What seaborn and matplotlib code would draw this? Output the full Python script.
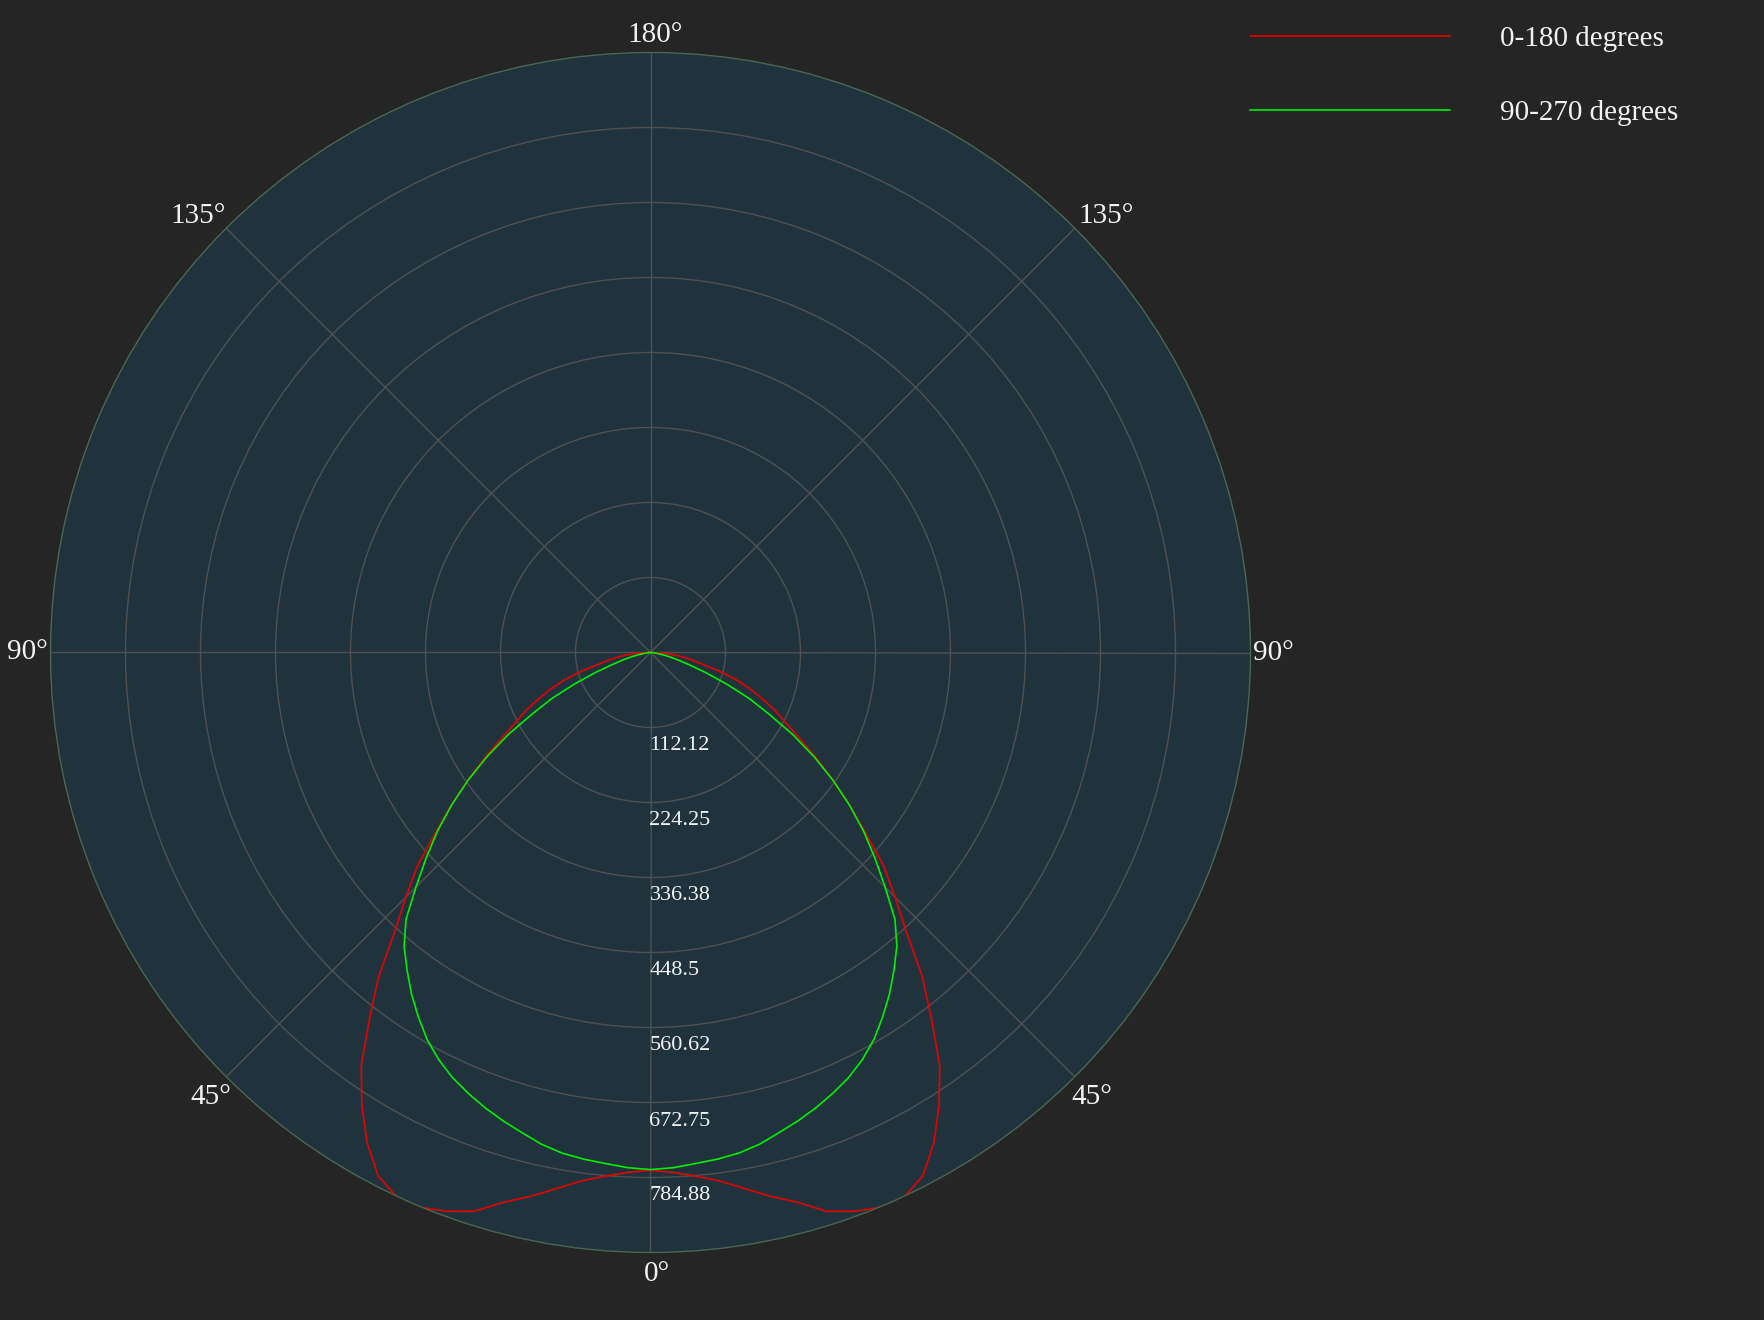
import numpy as np
import pandas as pd
import matplotlib
matplotlib.use("Agg")
import matplotlib.pyplot as plt
import matplotlib.transforms as mtransforms
import seaborn as sns

# ---- data (gamma angle in degrees, intensity values, symmetric planes) ----
gamma_deg = [0, 2.5, 5, 7.5, 10, 12.5, 15, 17.5, 20, 22.5, 25, 27.5, 30, 32.5, 35,
             37.5, 40, 42.5, 45, 47.5, 50, 52.5, 55, 57.5, 60, 62.5, 65, 67.5, 70,
             72.5, 75, 77.5, 80, 82.5, 85, 87.5, 90]
c0_180 = [774, 778, 786, 797, 814, 833, 851, 876, 889, 898, 898, 882, 847, 803, 754,
          690, 632, 566, 517, 473, 419, 376, 334, 294, 258, 228, 206, 181, 158,
          133, 105, 77, 62, 46, 30, 15, 0]
c90_270 = [773, 771, 767, 764, 760, 753, 743, 734, 724, 713, 701, 686, 668, 646, 623,
           598, 573, 541, 496, 455, 416, 375, 333, 290, 246, 200, 163, 123, 88,
           60, 42, 28, 17, 9, 4, 1, 0]
series_names = ["0-180 degrees", "90-270 degrees"]
series_colors = ["#e80000", "#00f000"]

r_ticks = [112.125, 224.25, 336.375, 448.5, 560.625, 672.75, 784.875]
r_tick_labels = ["112.12", "224.25", "336.38", "448.5", "560.62", "672.75", "784.88"]
r_max = 897.0
theta_tick_deg = [0, 45, 90, 135, 180, 225, 270, 315]
theta_tick_labels = ["0°", "45°", "90°", "135°", "180°", "135°", "90°", "45°"]
# label offsets from the outer circle (pixels, x right / y up)
theta_label_dx = [6.5, 17, 22.5, 31, 4.5, -28, -22.7, -15]
theta_label_dy = [-21.5, -20, 0, 12, 17.5, 12, 0, -20]

# ---- build long table (mirror each plane: left half = negative angle) ----
rows = []
for name, vals in zip(series_names, [c0_180, c90_270]):
    g = np.array(gamma_deg, dtype=float)
    v = np.array(vals, dtype=float)
    th = np.concatenate([-g[::-1], g[1:]])
    vv = np.concatenate([v[::-1], v[1:]])
    for t, r in zip(th, vv):
        rows.append({"theta": np.deg2rad(t), "value": r, "plane": name})
df = pd.DataFrame(rows)

# ---- style ----
sns.set_theme(style="dark")
plt.rcParams["font.family"] = ["Liberation Serif", "DejaVu Serif"]

FIG_BG = "#252525"
AX_BG = "#20333d"
TXT = "#f2f2f2"

fig = plt.figure(figsize=(17.64, 13.2), dpi=100, facecolor=FIG_BG)
ax = fig.add_axes([50.5 / 1764, (1320 - 1252.5) / 1320, 1200 / 1764, 1200 / 1320],
                  projection="polar", facecolor=AX_BG)
ax.set_theta_zero_location("S")

sns.lineplot(data=df, x="theta", y="value", hue="plane", palette=series_colors,
             hue_order=series_names, sort=False, estimator=None, linewidth=1.2,
             ax=ax, legend=False)

ax.set_ylim(0, r_max)
ax.set_yticks(r_ticks)
ax.set_yticklabels([])
ax.set_xticks(np.deg2rad(theta_tick_deg))
ax.set_xticklabels([])
ax.set_xlabel("")
ax.set_ylabel("")
ax.grid(True, color="#505050", linewidth=1.0)
ax.spines["polar"].set_color("#4a6650")
ax.spines["polar"].set_linewidth(1.0)

# angular labels around the outer circle
for deg, lab, dx, dy in zip(theta_tick_deg, theta_tick_labels, theta_label_dx, theta_label_dy):
    tr = mtransforms.offset_copy(ax.transData, fig=fig, x=dx, y=dy, units="dots")
    ax.text(np.deg2rad(deg), r_max, lab, transform=tr, ha="center", va="center",
            color=TXT, fontsize=21, clip_on=False)

# radial labels along the 0 degree direction
off = mtransforms.offset_copy(ax.transData, fig=fig, x=-1, y=-9, units="dots")
for r, lab in zip(r_ticks, r_tick_labels):
    ax.text(0, r, lab, transform=off, ha="left", va="top", color=TXT, fontsize=16)

handles = ax.get_lines()[:2]
fig.legend(handles, series_names, loc="upper left",
           bbox_to_anchor=(1250 / 1764, 1 - 26 / 1320), frameon=False,
           fontsize=21, handlelength=6.85, handletextpad=1.72, labelspacing=1.63,
           borderpad=0, borderaxespad=0, labelcolor=TXT)

fig.savefig("out.png", dpi=100, facecolor=FIG_BG)
